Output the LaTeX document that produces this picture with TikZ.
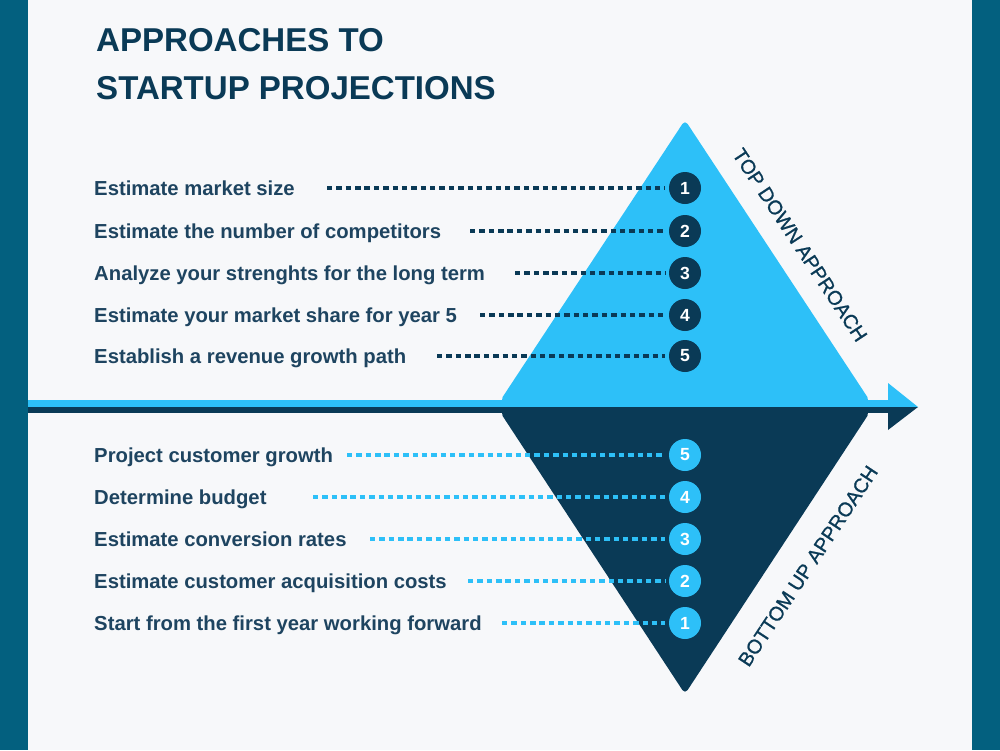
\documentclass[tikz,border=0pt]{standalone}
\usepackage{fontspec}
\setmainfont{Liberation Sans}
\newfontfamily\sidefont[FakeBold=0.9]{Liberation Sans}
\usepackage{tikz}
\usetikzlibrary{positioning, calc}
\definecolor{frameteal}{RGB}{3, 96, 127}
\definecolor{paper}{RGB}{247, 248, 250}
\definecolor{deepnavy}{RGB}{10, 58, 86}
\definecolor{skyblue}{RGB}{45, 192, 248}
\definecolor{inknavy}{RGB}{30, 68, 96}

\begin{document}
\begin{tikzpicture}[x=0.03cm, y=-0.03cm,
    item/.style={anchor=base west, inner sep=0pt, text=inknavy,
                 font=\fontsize{17.3}{20}\selectfont\bfseries},
    topnum/.style={circle, fill=deepnavy, text=white, minimum size=0.96cm,
                   inner sep=0pt, font=\fontsize{15}{15}\selectfont\bfseries},
    botnum/.style={topnum, fill=skyblue},
    topdash/.style={deepnavy, line width=3.2pt, dash pattern=on 4.6pt off 3.4pt,
                    shorten >=3pt},
    botdash/.style={topdash, skyblue},
    side/.style={text=deepnavy, inner sep=0pt,
                 font=\fontsize{17}{17}\sidefont}]

    \useasboundingbox (0,0) rectangle (1000,750);

    % FRAME
    \fill[frameteal] (0,0) rectangle (1000,750);
    \fill[paper] (28,0) rectangle (972,750);

    % TITLE
    \node[anchor=base west, inner sep=0pt, text=deepnavy,
          font=\fontsize{28.2}{30}\selectfont\bfseries]
        (title1) at (96,51) {APPROACHES TO};
    \node[anchor=base west, inner sep=0pt, text=deepnavy,
          font=\fontsize{28.2}{30}\selectfont\bfseries]
        (title2) at (96,99) {STARTUP PROJECTIONS};

    % TRIANGLES
    \coordinate (apexT) at (685,120);
    \coordinate (baseTL) at (500,401);
    \coordinate (baseTR) at (870,401);
    \fill[skyblue, rounded corners=4pt] (baseTL) -- (apexT) -- (baseTR) -- cycle;
    \coordinate (apexB) at (685,694);
    \coordinate (baseBL) at (500,412);
    \coordinate (baseBR) at (870,412);
    \fill[deepnavy, rounded corners=4pt] (baseBL) -- (apexB) -- (baseBR) -- cycle;

    % AXIS ARROW
    \fill[skyblue] (28,400) rectangle (890,407);
    \fill[deepnavy] (28,407) rectangle (890,413);
    \fill[skyblue] (888,383) -- (918,407) -- (888,407) -- cycle;
    \fill[deepnavy] (888,407) -- (918,407) -- (888,430) -- cycle;

    % TOP DOWN STEPS
    \foreach \y/\sx/\txt [count=\i] in {
        188/327/Estimate market size,
        231/470/Estimate the number of competitors,
        273/515/Analyze your strenghts for the long term,
        315/480/Estimate your market share for year 5,
        356/437/Establish a revenue growth path}
    {
        \node[item] (top\i) at (94,\y+7) {\txt};
        \node[topnum] (tn\i) at (685,\y) {\i};
        \coordinate (td\i) at (\sx,\y);
        \draw[topdash] (td\i) -- (tn\i);
    }

    % BOTTOM UP STEPS
    \foreach \y/\sx/\n/\txt [count=\i] in {
        455/347/5/Project customer growth,
        497/313/4/Determine budget,
        539/370/3/Estimate conversion rates,
        581/468/2/Estimate customer acquisition costs,
        623/502/1/Start from the first year working forward}
    {
        \node[item] (bot\i) at (94,\y+7) {\txt};
        \node[botnum] (bn\i) at (685,\y) {\n};
        \coordinate (bd\i) at (\sx,\y);
        \draw[botdash] (bd\i) -- (bn\i);
    }

    % SIDE LABELS
    \node[side, rotate=-56.5] (topdown) at (800,245) {TOP DOWN APPROACH};
    \node[side, rotate=56.5] (bottomup) at (808,566) {BOTTOM UP APPROACH};

\end{tikzpicture}
\end{document}
